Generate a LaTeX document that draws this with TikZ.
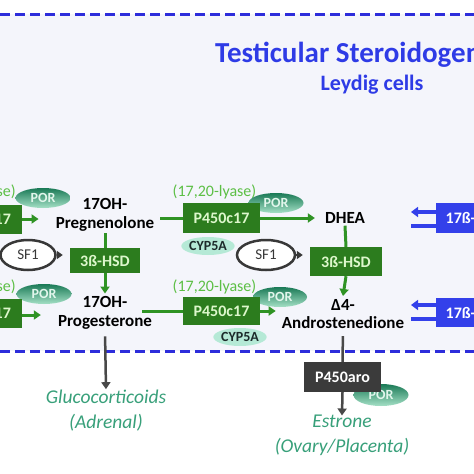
\documentclass[tikz,border=0pt]{standalone}
\usepackage{fontspec}
\setmainfont{Carlito}
\usetikzlibrary{arrows.meta,shapes.geometric}
\definecolor{bgc}{HTML}{F4F5FB}
\definecolor{dashblue}{HTML}{2D2DDB}
\definecolor{titleblue}{HTML}{2E3BE6}
\definecolor{boxgreen}{HTML}{2C7C1E}
\definecolor{boxtext}{HTML}{DDF7CC}
\definecolor{linegreen}{HTML}{2F9324}
\definecolor{lyasegreen}{HTML}{5CBF45}
\definecolor{pordark}{HTML}{1A7A56}
\definecolor{porlight}{HTML}{A5E0C6}
\definecolor{portext}{HTML}{E2F6EC}
\definecolor{cypfill}{HTML}{B5E9D6}
\definecolor{cyptext}{HTML}{1C2A2A}
\definecolor{sfgray}{HTML}{383838}
\definecolor{arrowgray}{HTML}{484848}
\definecolor{arobox}{HTML}{3B3B3B}
\definecolor{italgreen}{HTML}{38A07A}
\definecolor{bluebox}{HTML}{3340EA}
\begin{document}
\begin{tikzpicture}[x=1pt,y=-1pt,
  gbox/.style={rectangle, fill=boxgreen, text=boxtext, font=\fontsize{16}{18}\selectfont\bfseries, minimum width=77pt, minimum height=29pt, inner sep=0pt},
  lbl/.style={font=\fontsize{17}{18.5}\selectfont\bfseries, align=center, text=black, inner sep=2pt},
  lyase/.style={text=lyasegreen, font=\fontsize{16}{18}\selectfont, inner sep=0pt},
  porell/.style={ellipse, top color=pordark, bottom color=porlight, text=portext, font=\fontsize{14}{16}\selectfont\bfseries, minimum width=55pt, minimum height=20pt, inner sep=0pt},
  cyp/.style={ellipse, fill=cypfill, text=cyptext, font=\fontsize{14}{16}\selectfont\bfseries, minimum width=53pt, minimum height=18pt, inner sep=0pt},
  sfell/.style={ellipse, draw=sfgray, line width=2.5pt, fill=white, text=sfgray, font=\fontsize{15}{16}\selectfont, minimum width=55pt, minimum height=30pt, inner sep=0pt},
  garrow/.style={draw=linegreen, line width=3pt, -{Triangle[length=7pt,width=9pt]}},
  gline/.style={draw=linegreen, line width=3pt},
  grayarrow/.style={draw=arrowgray, line width=2.5pt, -{Triangle[length=7pt,width=9pt]}},
  grayline/.style={draw=arrowgray, line width=2.5pt},
  sfarrow/.style={draw=sfgray, line width=2.5pt, -{Triangle[length=6pt,width=8pt]}},
  bbox/.style={rectangle, fill=bluebox, text=white, font=\fontsize{16}{18}\selectfont\bfseries, minimum width=77pt, minimum height=30pt, inner sep=0pt},
  barrow/.style={draw=bluebox, line width=3.5pt, -{Triangle[length=7pt,width=10pt]}},
  bline/.style={draw=bluebox, line width=3.5pt},
  aro/.style={rectangle, fill=arobox, text=white, font=\fontsize{16}{18}\selectfont\bfseries, minimum width=77pt, minimum height=30pt, inner sep=0pt},
  ital/.style={text=italgreen, font=\fontsize{19.5}{25}\selectfont\itshape, align=center, inner sep=1pt},
  dashline/.style={draw=dashblue, line width=3pt, dash pattern=on 10pt off 5pt}
]
\useasboundingbox (0,0) rectangle (474,474);
\clip (0,0) rectangle (474,474);
\fill[white] (0,0) rectangle (474,474);
\fill[bgc] (0,14) rectangle (474,351);
\draw[dashline] (0,14) -- (474,14);
\draw[dashline] (0,351) -- (474,351);

% titles
\node[anchor=base west, inner sep=0pt, text=titleblue, font=\fontsize{29}{32}\selectfont\bfseries] (title) at (215,62) {Testicular Steroidogenesis};
\node[anchor=base, inner sep=0pt, text=titleblue, font=\fontsize{22}{24}\selectfont\bfseries] (leydig) at (372,90) {Leydig cells};

% left column (cut)
\node[lyase] (lyL1) at (-26,192) {(17,20-lyase)};
\node[porell] (porL1) at (43,198) {POR};
\node[gbox] (lbox1) at (-17,219) {P450c17};
\node[lyase] (lyL2) at (-26,287) {(17,20-lyase)};
\node[porell] (porL2) at (44,294) {POR};
\node[gbox] (lbox2) at (-17,313) {P450c17};

% column 1
\node[lbl] (preg) at (105,215) {17OH-\\Pregnenolone};
\node[sfell] (sf1) at (28,255) {SF1};
\node[gbox, minimum width=70pt, minimum height=25pt] (hsd1) at (105,260.5) {3ß-HSD};
\node[lbl] (prog) at (105,313) {17OH-\\Progesterone};
\node[ital] (gluco) at (106,411) {Glucocorticoids\\(Adrenal)};

% column 2
\node[lyase] (ly1) at (214.5,192) {(17,20-lyase)};
\node[porell] (por1) at (276,203) {POR};
\node[gbox, minimum height=30pt] (p1) at (221.5,218) {P450c17};
\node[cyp] (cyp1) at (208,246) {CYP5A};
\node[sfell, minimum width=58pt] (sf2) at (266,255) {SF1};
\node[lyase] (ly2) at (214.5,287) {(17,20-lyase)};
\node[porell, minimum width=54pt] (por2) at (280,297) {POR};
\node[gbox, minimum height=28pt] (p2) at (221.5,311) {P450c17};
\node[cyp, minimum width=50pt] (cyp2) at (240,337) {CYP5A};

% column 3
\node[lbl] (dhea) at (345,218) {DHEA};
\node[gbox, minimum width=72pt] (hsd2) at (346,261.5) {3ß-HSD};
\node[lbl] (andro) at (343,314) {Δ4-\\Androstenedione};
\node[porell, minimum height=22pt] (por3) at (381,395) {POR};
\node[aro] (p450aro) at (342.5,377) {P450aro};
\node[ital] (estr) at (342,435) {Estrone\\(Ovary/Placenta)};

% right blue boxes (cut)
\node[bbox] (b1) at (474.5,218) {17ß-HSD};
\node[bbox, minimum height=29pt] (b2) at (474.5,312.5) {17ß-HSD};
\coordinate (b1a) at (411,212);
\coordinate (b1b) at (411,226);
\coordinate (b2a) at (411,305);
\coordinate (b2b) at (411,319);

% connectors
\draw[garrow, shorten >=15pt] (lbox1.east) -- (lbox1.east -| preg.west);
\draw[garrow, shorten >=15pt] ([yshift=-2pt]lbox2.east) -- ([yshift=-2pt]lbox2.east -| prog.west);
\draw[gline, shorten <=4pt] (preg.east |- p1.west) -- (p1.west);
\draw[garrow, shorten >=8pt] (p1.east) -- (p1.east -| dhea.west);
\draw[gline] (preg.south) -- (hsd1.north);
\draw[garrow] (hsd1.south) -- ([yshift=1pt]prog.north);
\draw[sfarrow, shorten >=7pt] (sf1.east) -- (sf1.east -| hsd1.west);
\draw[gline] ([xshift=-12pt]prog.east |- p2.west) -- (p2.west);
\draw[garrow, shorten >=4pt] (p2.east) -- (p2.east -| andro.west);
\draw[gline] (dhea.south) -- (hsd2.north);
\draw[garrow] (hsd2.south) -- ([yshift=1pt]andro.north);
\draw[sfarrow, shorten >=7pt] (sf2.east) -- (sf2.east -| hsd2.west);
\draw[grayarrow, shorten <=5pt] (prog.south) -- (gluco.north);
\draw[grayline, shorten <=5pt] (andro.south) -- (p450aro.north);
\draw[grayarrow] (p450aro.south) -- ([yshift=-2pt]estr.north);
\draw[barrow] (b1.west |- b1a) -- (b1a);
\draw[bline] (b1.west |- b1b) -- (b1b);
\draw[barrow] (b2.west |- b2a) -- (b2a);
\draw[bline] (b2.west |- b2b) -- (b2b);
\end{tikzpicture}
\end{document}
